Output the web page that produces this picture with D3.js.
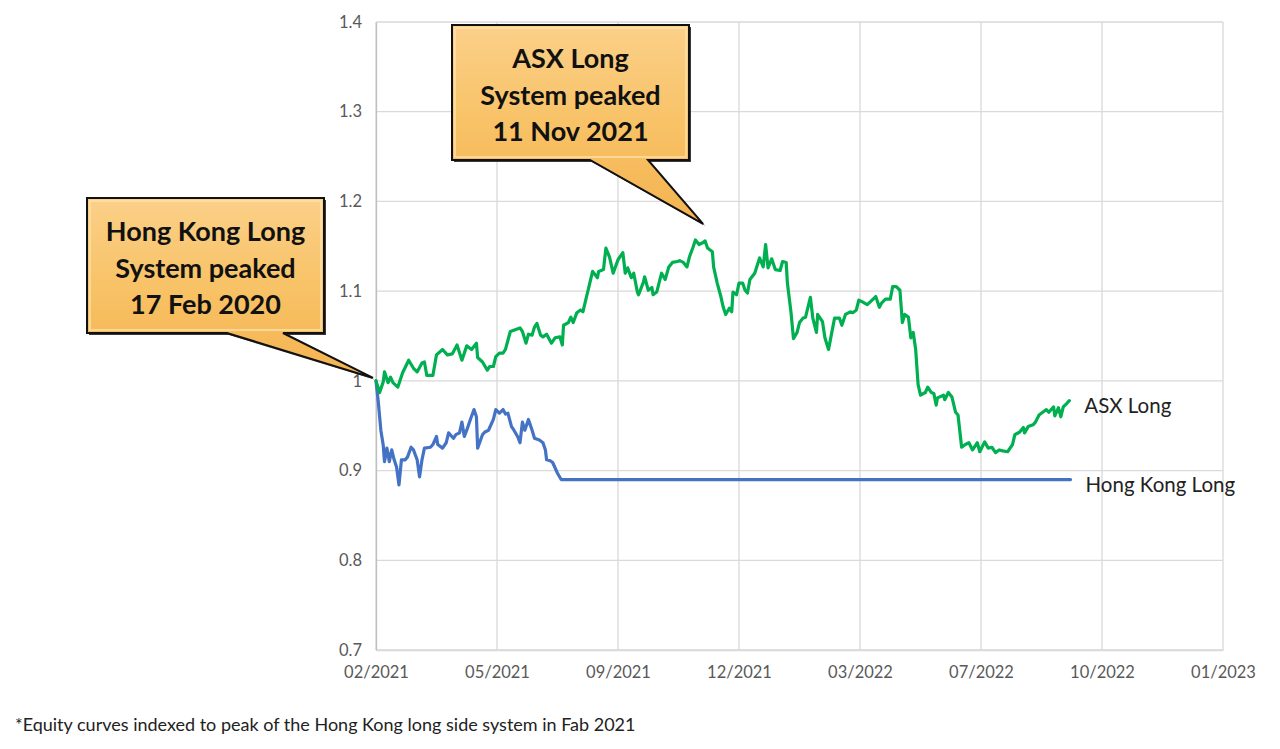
<!DOCTYPE html>
<html>
<head>
<meta charset="utf-8">
<script src="https://cdn.jsdelivr.net/npm/d3@7"></script>
<style>
  body { margin: 0; background: #fff; }
  svg { display: block; font-family: Lato, "Open Sans", sans-serif; }
</style>
</head>
<body>
<div id="chart"></div>
<script>
// series start: HK long system peak, 17 Feb 2021; x values are days since then
const startDate = new Date(2021, 1, 17);

const asxDays = [0, 3, 6, 7, 10, 12, 14, 18, 22, 27, 31, 34, 38, 40, 42, 47, 50, 55, 59, 63, 67, 71, 75, 79, 83, 84, 88, 92, 94, 97,
  99, 102, 105, 107, 111, 115, 119, 121, 124, 126, 129, 131, 133, 136, 138, 141, 145, 148, 152, 154, 155, 159, 161, 163, 166, 169, 171, 174, 176, 179,
  183, 184, 188, 190, 193, 196, 200, 204, 206, 208, 211, 213, 216, 217, 221, 222, 225, 228, 229, 232, 236, 239, 242, 245, 249, 251, 254, 257, 259, 262,
  264, 267, 270, 272, 274, 278, 279, 282, 285, 287, 289, 292, 294, 295, 298, 300, 303, 305, 307, 309, 313, 317, 320, 322, 324, 327, 330, 334, 336, 339,
  340, 343, 345, 348, 350, 353, 355, 359, 361, 364, 365, 369, 371, 374, 376, 379, 383, 385, 388, 392, 394, 397, 399, 402, 406, 410, 413, 416, 418, 421,
  425, 427, 430, 433, 435, 437, 440, 442, 444, 446, 448, 450, 454, 456, 459, 461, 463, 464, 469, 470, 473, 476, 479, 481, 483, 484, 487, 490, 493, 497,
  499, 503, 506, 509, 512, 515, 518, 522, 526, 528, 532, 535, 536, 539, 543, 545, 548, 551, 554, 556, 560, 561, 564, 566, 568, 571, 573];
const asxValues = [1.000, 0.987, 0.999, 1.010, 0.998, 1.004, 0.998, 0.993, 1.009, 1.023, 1.014, 1.010, 1.020, 1.021, 1.006, 1.006, 1.029, 1.035, 1.029, 1.030, 1.040, 1.023, 1.039, 1.035, 1.042, 1.026, 1.021, 1.012, 1.016, 1.016,
  1.027, 1.031, 1.031, 1.035, 1.055, 1.057, 1.059, 1.055, 1.042, 1.052, 1.051, 1.060, 1.064, 1.051, 1.049, 1.052, 1.042, 1.048, 1.049, 1.040, 1.062, 1.065, 1.071, 1.065, 1.076, 1.079, 1.077, 1.094, 1.105, 1.122,
  1.115, 1.122, 1.124, 1.148, 1.138, 1.120, 1.135, 1.143, 1.120, 1.126, 1.115, 1.120, 1.099, 1.096, 1.110, 1.116, 1.101, 1.104, 1.096, 1.099, 1.120, 1.113, 1.127, 1.132, 1.133, 1.134, 1.132, 1.127, 1.138, 1.149,
  1.157, 1.152, 1.154, 1.156, 1.148, 1.144, 1.127, 1.109, 1.094, 1.082, 1.074, 1.081, 1.077, 1.099, 1.096, 1.109, 1.109, 1.101, 1.098, 1.113, 1.120, 1.137, 1.127, 1.152, 1.126, 1.136, 1.124, 1.123, 1.133, 1.132,
  1.109, 1.076, 1.047, 1.054, 1.065, 1.070, 1.071, 1.093, 1.070, 1.054, 1.074, 1.066, 1.048, 1.035, 1.049, 1.070, 1.070, 1.062, 1.074, 1.077, 1.076, 1.079, 1.090, 1.088, 1.085, 1.090, 1.094, 1.082, 1.087, 1.091,
  1.091, 1.105, 1.105, 1.101, 1.065, 1.074, 1.071, 1.048, 1.054, 1.035, 0.996, 0.984, 0.987, 0.993, 0.987, 0.986, 0.973, 0.981, 0.984, 0.979, 0.987, 0.982, 0.965, 0.962, 0.938, 0.926, 0.929, 0.931, 0.923, 0.931,
  0.921, 0.932, 0.925, 0.926, 0.920, 0.923, 0.922, 0.921, 0.929, 0.940, 0.943, 0.948, 0.942, 0.949, 0.951, 0.954, 0.962, 0.965, 0.968, 0.965, 0.971, 0.961, 0.970, 0.960, 0.971, 0.975, 0.978];

const hkDays = [0, 2, 4, 6, 7, 9, 11, 13, 15, 17, 19, 21, 24, 26, 29, 31, 34, 36, 38, 40, 45, 47, 50, 51, 55, 58, 60, 64, 66, 69,
  71, 73, 75, 78, 81, 83, 84, 88, 90, 93, 94, 97, 99, 102, 105, 107, 109, 112, 114, 117, 119, 121, 123, 126, 129, 131, 135, 138, 140, 141,
  144, 146, 150, 153, 574];
const hkValues = [1.000, 0.975, 0.945, 0.928, 0.910, 0.925, 0.910, 0.923, 0.912, 0.904, 0.884, 0.912, 0.912, 0.915, 0.926, 0.923, 0.912, 0.893, 0.912, 0.925, 0.926, 0.929, 0.938, 0.929, 0.925, 0.931, 0.942, 0.936, 0.940, 0.942,
  0.954, 0.938, 0.945, 0.957, 0.968, 0.960, 0.925, 0.940, 0.943, 0.945, 0.948, 0.957, 0.968, 0.964, 0.968, 0.963, 0.964, 0.949, 0.945, 0.938, 0.931, 0.954, 0.945, 0.957, 0.945, 0.936, 0.934, 0.931, 0.923, 0.912,
  0.911, 0.909, 0.897, 0.890, 0.890];

const yTicks = [0.7, 0.8, 0.9, 1.0, 1.1, 1.2, 1.3, 1.4];
const xTickLabels = ["02/2021", "05/2021", "09/2021", "12/2021", "03/2022", "07/2022", "10/2022", "01/2023"];
const xTickStepDays = 100;

const seriesNames = ["ASX Long", "Hong Kong Long"];
const seriesColors = ["#00B050", "#4472C4"];

const calloutLines = [
  ["Hong Kong Long", "System peaked", "17 Feb 2020"],
  ["ASX Long", "System peaked", "11 Nov 2021"]
];

const W = 1280, H = 749;
const svg = d3.select("#chart").append("svg")
  .attr("width", W)
  .attr("height", H);

const plot = { left: 376, right: 1223, top: 22, bottom: 650 };

const tickDates = xTickLabels.map((_, i) => d3.timeDay.offset(startDate, i * xTickStepDays));

const x = d3.scaleTime()
  .domain([tickDates[0], tickDates[tickDates.length - 1]])
  .range([plot.left, plot.right]);
const y = d3.scaleLinear()
  .domain([0.7, 1.4])
  .range([plot.bottom, plot.top]);

// gridlines
const grid = svg.append("g").attr("stroke", "#d9d9d9").attr("stroke-width", 1.3);
grid.selectAll(".h").data(yTicks).enter().append("line")
  .attr("x1", plot.left).attr("x2", plot.right)
  .attr("y1", d => y(d)).attr("y2", d => y(d));
grid.selectAll(".v").data(tickDates).enter().append("line")
  .attr("x1", d => x(d)).attr("x2", d => x(d))
  .attr("y1", plot.top).attr("y2", plot.bottom);

// axes
const yAxis = svg.append("g")
  .attr("transform", `translate(${plot.left},0)`)
  .call(d3.axisLeft(y).tickValues(yTicks).tickSize(0).tickPadding(14)
    .tickFormat(d => String(+d.toFixed(1))));
yAxis.select(".domain").attr("stroke", "#bfbfbf").attr("stroke-width", 1.3);
yAxis.selectAll("text").attr("fill", "#595959").style("font-size", "16.5px");

const xAxis = svg.append("g")
  .attr("transform", `translate(0,${plot.bottom})`)
  .call(d3.axisBottom(x).tickValues(tickDates).tickSize(0).tickPadding(16)
    .tickFormat((d, i) => xTickLabels[i]));
xAxis.select(".domain").attr("stroke", "#d9d9d9").attr("stroke-width", 1.3);
xAxis.selectAll("text").attr("fill", "#595959").style("font-size", "16.5px");
yAxis.attr("font-family", null);
xAxis.attr("font-family", null);

// series
const series = [
  { name: seriesNames[0], color: seriesColors[0], pts: asxDays.map((d, i) => [d3.timeDay.offset(startDate, d), asxValues[i]]) },
  { name: seriesNames[1], color: seriesColors[1], pts: hkDays.map((d, i) => [d3.timeDay.offset(startDate, d), hkValues[i]]) }
];

const line = d3.line().x(d => x(d[0])).y(d => y(d[1]));

svg.append("g")
  .attr("fill", "none")
  .attr("stroke-width", 3.2)
  .attr("stroke-linejoin", "round")
  .attr("stroke-linecap", "round")
  .selectAll("path")
  .data(series.slice().reverse())
  .enter().append("path")
    .attr("d", d => line(d.pts))
    .attr("stroke", d => d.color);

svg.append("g")
  .style("font-size", "20.5px")
  .attr("fill", "#222")
  .selectAll("text")
  .data(series)
  .enter().append("text")
    .attr("x", d => x(d.pts[d.pts.length - 1][0]) + 15)
    .attr("y", d => y(d.pts[d.pts.length - 1][1]) + 5)
    .attr("dy", "0.35em")
    .text(d => d.name);

// callouts
const defs = svg.append("defs");
const grad = defs.append("linearGradient").attr("id", "callFill")
  .attr("x1", 0).attr("y1", 0).attr("x2", 0).attr("y2", 1);
grad.append("stop").attr("offset", "0%").attr("stop-color", "#fbd089");
grad.append("stop").attr("offset", "50%").attr("stop-color", "#f8c266");
grad.append("stop").attr("offset", "100%").attr("stop-color", "#f4b350");

const callouts = [
  { box: [87, 198, 324, 333], base: [227, 283], tip: [x(startDate) - 3, y(1.0) - 3], lines: calloutLines[0] },
  { box: [452, 25, 689, 160], base: [590, 648], tip: [x(new Date(2021, 10, 11)) + 4, y(1.175)], lines: calloutLines[1] }
];

const cg = svg.append("g");
callouts.forEach(c => {
  const [x0, y0, x1, y1] = c.box;
  const p = `M${x0},${y0}H${x1}V${y1}H${c.base[1]}L${c.tip[0]},${c.tip[1]}L${c.base[0]},${y1}H${x0}Z`;
  cg.append("path").attr("d", p).attr("transform", "translate(2,2)")
    .attr("fill", "#3a3a3a");
  cg.append("path").attr("d", p)
    .attr("fill", "url(#callFill)")
    .attr("stroke", "#111")
    .attr("stroke-width", 2)
    .attr("stroke-linejoin", "miter");
  cg.append("rect")
    .attr("x", x0 + 3).attr("y", y0 + 3)
    .attr("width", x1 - x0 - 6).attr("height", y1 - y0 - 6)
    .attr("fill", "none").attr("stroke", "#fde2b0").attr("stroke-width", 2).attr("opacity", 0.7);
  cg.append("g")
    .selectAll("text")
    .data(c.lines)
    .enter().append("text")
      .attr("x", (x0 + x1) / 2)
      .attr("y", (d, i) => y0 + 43 + i * 36.5)
      .attr("text-anchor", "middle")
      .attr("fill", "#111")
      .style("font-size", "27px")
      .style("font-weight", "bold")
      .text(d => d);
});

// footnote
svg.append("text")
  .attr("x", 15)
  .attr("y", 731)
  .attr("fill", "#222")
  .style("font-size", "18px")
  .text("*Equity curves indexed to peak of the Hong Kong long side system in Fab 2021");
</script>
</body>
</html>
